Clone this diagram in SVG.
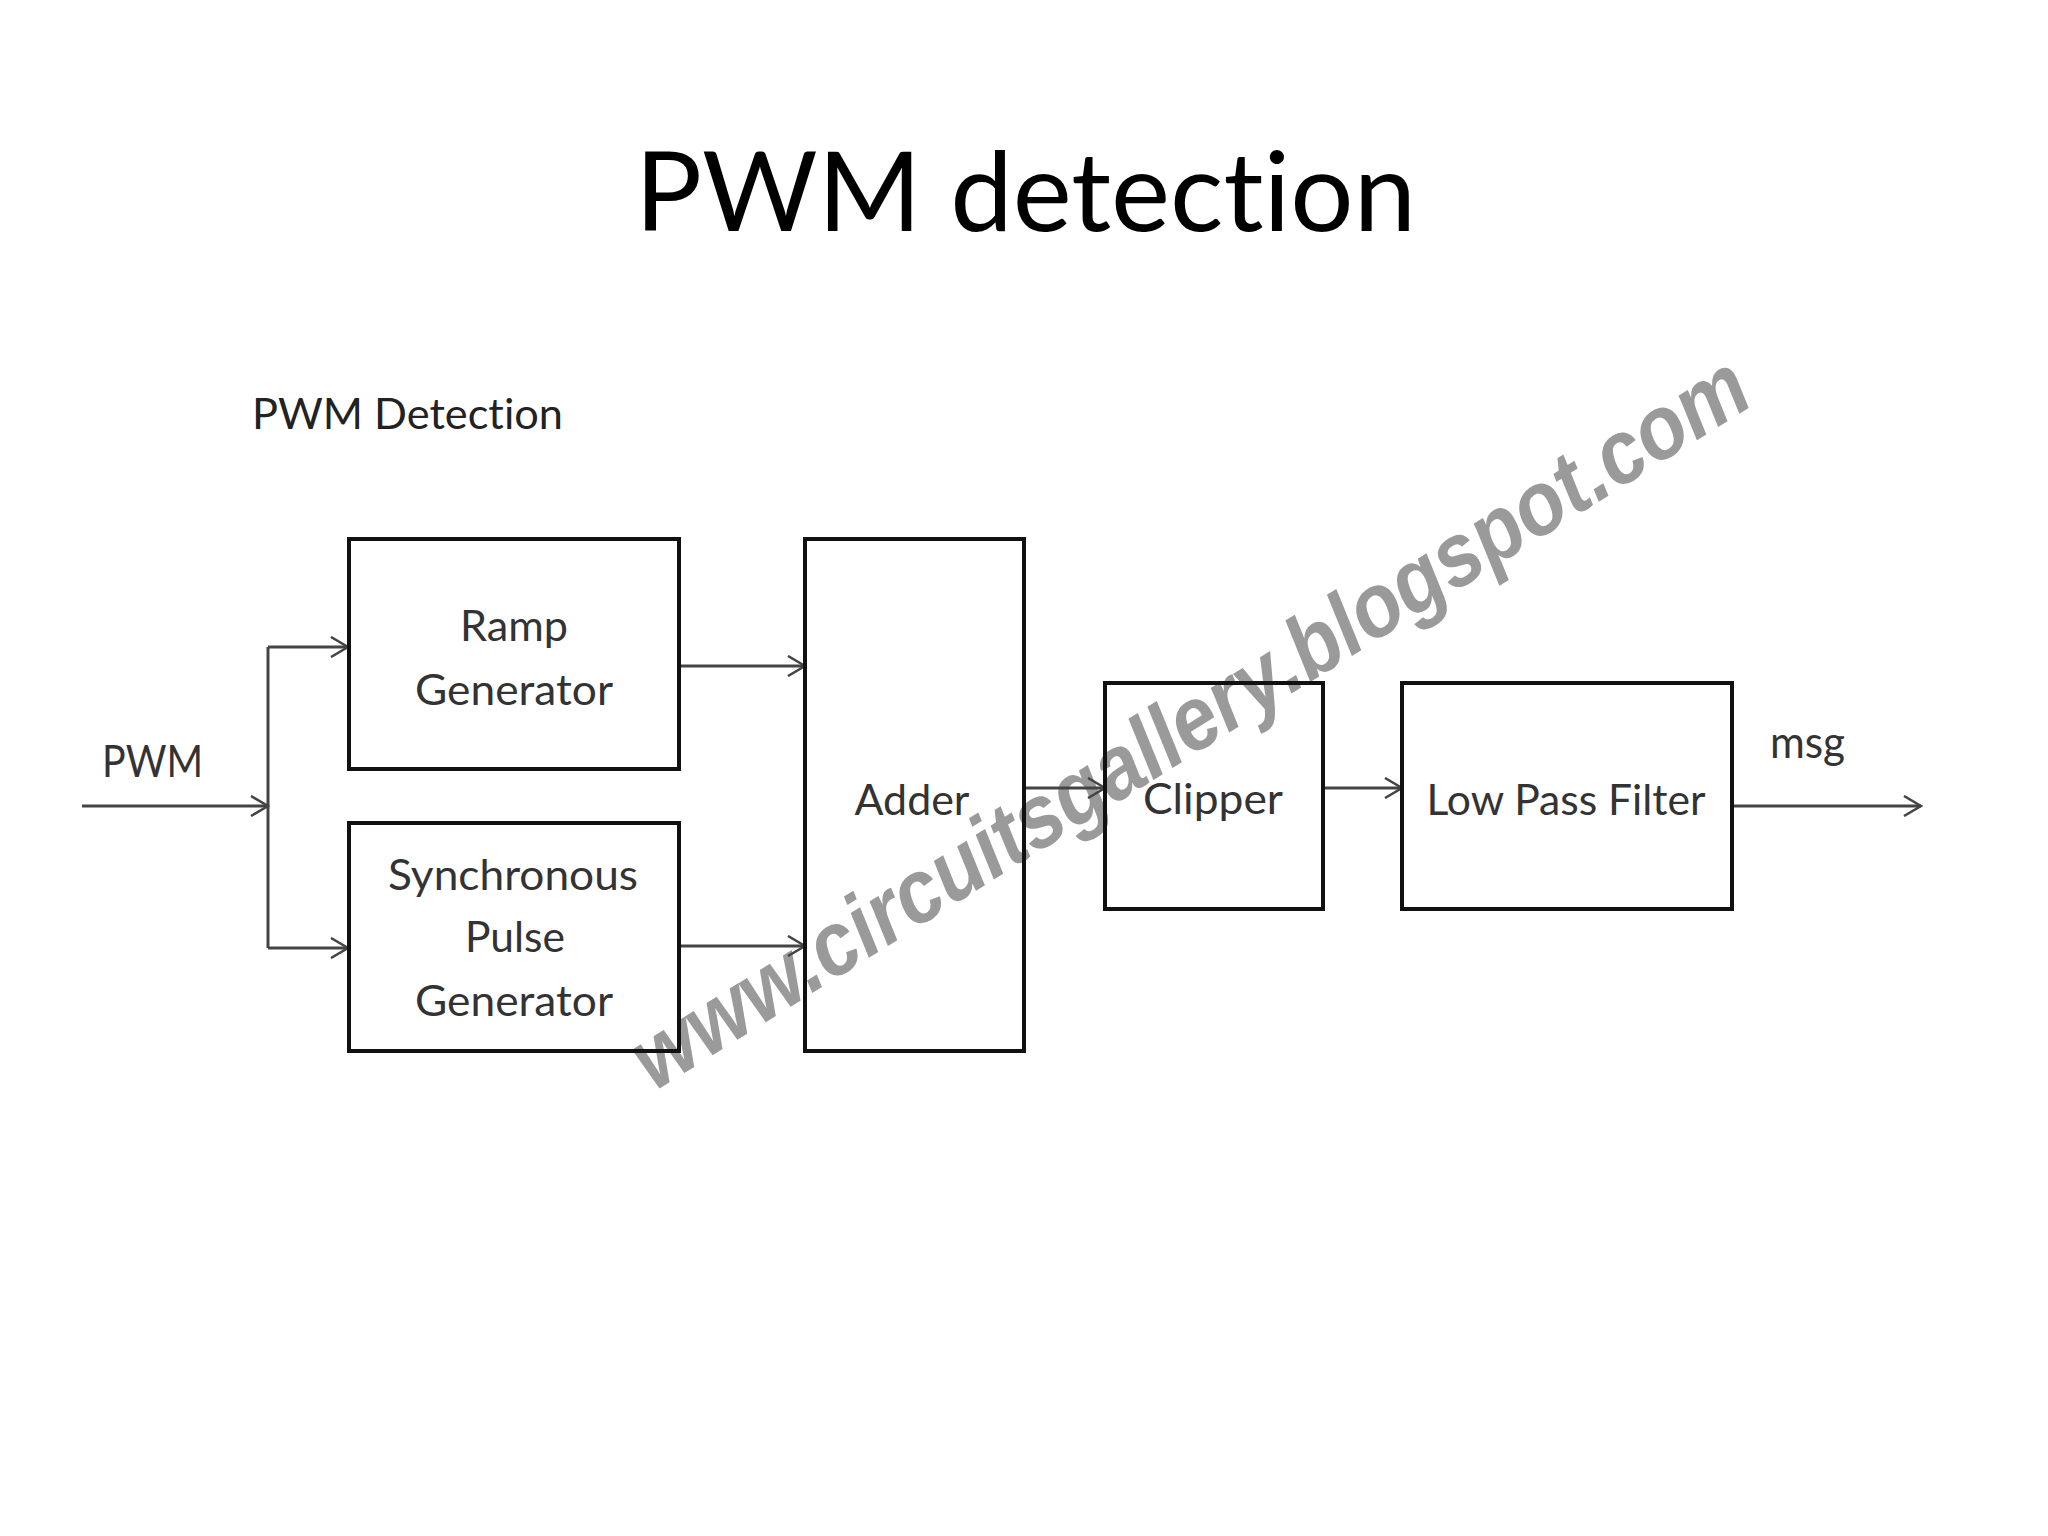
<svg xmlns="http://www.w3.org/2000/svg" width="2048" height="1536" viewBox="0 0 2048 1536">
  <defs>
    <style>
      text { font-variant-ligatures: none; font-feature-settings: "liga" 0; }
      .box { fill: none; stroke: #111; stroke-width: 4; }
      .lbl { font-family: Lato, "Liberation Sans", sans-serif; font-size: 42px; fill: #333; text-anchor: middle; }
      .conn { stroke: #444; stroke-width: 3; fill: none; }
      .arr { stroke: #444; stroke-width: 3; fill: none; marker-end: url(#arrow); }
    </style>
    <marker id="arrow" markerUnits="userSpaceOnUse" viewBox="0 0 20 22" markerWidth="20" markerHeight="22" refX="18" refY="11" orient="auto">
      <path d="M1,1 L18,11 L1,21" fill="none" stroke="#444" stroke-width="2.5"/>
    </marker>
  </defs>
  <rect width="2048" height="1536" fill="#ffffff"/>

  <!-- watermark -->
  <text x="654" y="1092" transform="rotate(-32 654 1092)" font-family="'Liberation Sans', Arial, sans-serif" font-weight="bold" font-style="italic" font-size="90" fill="#9a9a9a" textLength="1300" lengthAdjust="spacingAndGlyphs">www.circuitsgallery.blogspot.com</text>

  <text x="635" y="231" font-family="Lato, 'Liberation Sans', sans-serif" font-size="110" fill="#000" textLength="781" lengthAdjust="spacingAndGlyphs">PWM detection</text>
  <text x="252" y="429" font-family="Lato, 'Liberation Sans', sans-serif" font-size="43" fill="#222" textLength="311" lengthAdjust="spacingAndGlyphs">PWM Detection</text>

  <g id="connectors">
    <path class="arr" d="M82,806 H268"/>
    <path class="conn" d="M268,647 V948"/>
    <path class="arr" d="M268,647 H348"/>
    <path class="arr" d="M268,948 H348"/>
    <path class="arr" d="M679,666 H805"/>
    <path class="arr" d="M679,946 H805"/>
    <path class="arr" d="M1024,788 H1105"/>
    <path class="arr" d="M1323,788 H1402"/>
    <path class="arr" d="M1732,806 H1921"/>
  </g>

  <g id="label-pwm">
    <text x="102" y="777" font-family="Lato, 'Liberation Sans', sans-serif" font-size="44" fill="#333" textLength="101" lengthAdjust="spacingAndGlyphs">PWM</text>
  </g>
  <g id="label-msg">
    <text x="1770" y="758" font-family="Lato, 'Liberation Sans', sans-serif" font-size="44" fill="#333" textLength="75" lengthAdjust="spacingAndGlyphs">msg</text>
  </g>

  <g id="ramp-generator">
    <rect class="box" x="349" y="539" width="330" height="230"/>
    <text class="lbl" x="514" y="641" textLength="108" lengthAdjust="spacingAndGlyphs">Ramp</text>
    <text class="lbl" x="514" y="705" textLength="198" lengthAdjust="spacingAndGlyphs">Generator</text>
  </g>
  <g id="sync-pulse-generator">
    <rect class="box" x="349" y="823" width="330" height="228"/>
    <text class="lbl" x="513" y="890" textLength="250" lengthAdjust="spacingAndGlyphs">Synchronous</text>
    <text class="lbl" x="515" y="952" textLength="100" lengthAdjust="spacingAndGlyphs">Pulse</text>
    <text class="lbl" x="514" y="1016" textLength="198" lengthAdjust="spacingAndGlyphs">Generator</text>
  </g>
  <g id="adder">
    <rect class="box" x="805" y="539" width="219" height="512"/>
    <text class="lbl" x="912" y="815" textLength="115" lengthAdjust="spacingAndGlyphs">Adder</text>
  </g>
  <g id="clipper">
    <rect class="box" x="1105" y="683" width="218" height="226"/>
    <text class="lbl" x="1213" y="814" textLength="140" lengthAdjust="spacingAndGlyphs">Clipper</text>
  </g>
  <g id="low-pass-filter">
    <rect class="box" x="1402" y="683" width="330" height="226"/>
    <text class="lbl" x="1566" y="815" textLength="279" lengthAdjust="spacingAndGlyphs">Low Pass Filter</text>
  </g>
</svg>
